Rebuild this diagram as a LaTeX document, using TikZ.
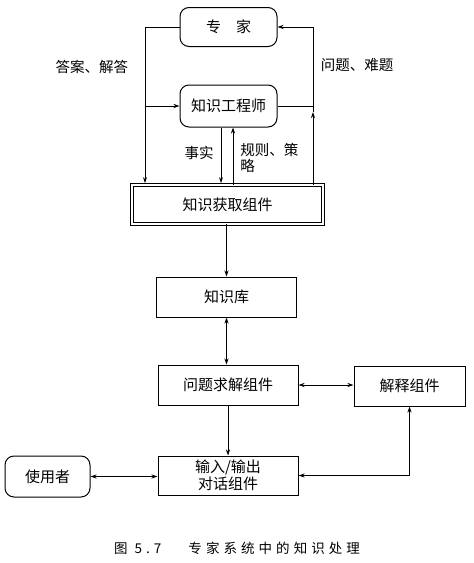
\documentclass[tikz,border=0pt]{standalone}
\usepackage{fontspec}
\setmainfont{Noto Sans CJK SC}
\newfontfamily\capfont[LetterSpace=30]{Noto Sans CJK SC}
\usetikzlibrary{arrows.meta}
\tikzset{box/.style = {draw, line width = 1, minimum width = 140, minimum height = 40, inner sep = 0, font = \fontsize{15}{17}\selectfont}}
\tikzset{rbox/.style = {box, rounded corners = 9}}
\tikzset{dbox/.style = {box, line width = 0.9, double, double distance = 2}}
\tikzset{lab/.style = {inner sep = 0, font = \fontsize{14.5}{16.5}\selectfont}}

\begin{document}
\begin{tikzpicture}[x=1pt, y=-1pt, line width=0.8, >={Stealth[length=6pt, width=4pt]}]
    \useasboundingbox (0, 0) rectangle (474, 563);
    \node (zj) at (228.5, 27) [rbox, minimum width = 97, minimum height = 39] {专\hspace{1em}家};
    \node (gcs) at (228.5, 106) [rbox, minimum width = 97, minimum height = 42] {知识工程师};
    \node (hq) at (227.5, 204.5) [dbox, minimum width = 191, minimum height = 39] {知识获取组件};
    \node (zsk) at (226.5, 297) [box] {知识库};
    \node (wt) at (228, 385) [box] {问题求解组件};
    \node (js) at (409.5, 386) [box, minimum width = 111] {解释组件};
    \node (io) at (228, 475.5) [box, minimum height = 39, align = center] {输入/输出\\对话组件};
    \node (user) at (47.5, 476.5) [rbox, minimum width = 85, minimum height = 41] {使用者};

    \node (da) at (92, 67) [lab] {答案、解答};
    \node (wn) at (357, 65) [lab] {问题、难题};
    \node (ss) at (199, 153) [lab] {事实};
    \node (gz) at (240, 158) [lab, anchor = west, align = left] {规则、策\\略};
    \node (cap) at (237, 548) [font = \capfont\fontsize{13.5}{16}\selectfont] {图 5.7\hspace{2em}专家系统中的知识处理};

    \coordinate (lx) at (145, 27);
    \coordinate (rx) at (313, 27);
    \coordinate (ra) at (313, 112);
    \coordinate (fa) at (221, 0);
    \coordinate (fb) at (233, 0);
    \draw [->, shorten >=1.5] (zj.west) -- (lx) -- (lx |- hq.north);
    \draw [->] (lx |- gcs.west) -- (gcs.west);
    \draw (gcs.east) -- (rx |- gcs.east);
    \draw [->] (rx |- hq.north) -- (ra);
    \draw [->] (ra) -- (rx) -- (zj.east);
    \draw [->, shorten >=1.5] (fa |- gcs.south) -- (fa |- hq.north);
    \draw [->] (fb |- hq.north) -- (fb |- gcs.south);
    \draw [->] (zsk.north |- hq.south) -- (zsk.north);
    \draw [<->] (zsk.south) -- (zsk.south |- wt.north);
    \draw [<->] (wt.east) -- (wt.east -| js.west);
    \draw [->] (wt.south) -- (io.north);
    \draw [<->] (user.east) -- (user.east -| io.west);
    \draw [<->] (io.east) -| (js.south);
\end{tikzpicture}
\end{document}
